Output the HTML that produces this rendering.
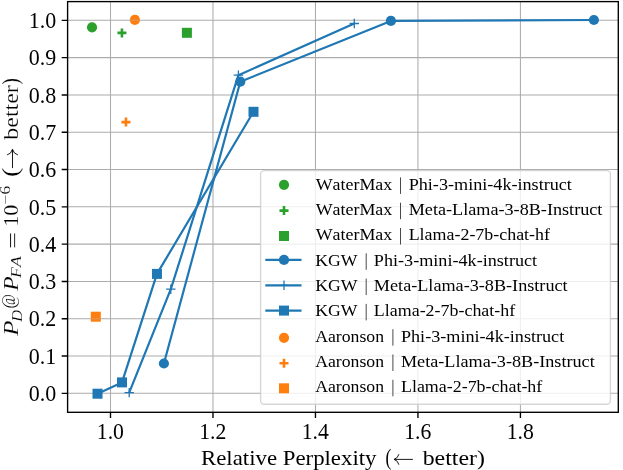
<!DOCTYPE html>
<html><head><meta charset="utf-8"><style>html,body{margin:0;padding:0;background:#fff;overflow:hidden}svg{display:block;will-change:transform}text{font-kerning:none;fill:#000} .r text{stroke:#fff;stroke-width:0.15px}</style></head>
<body><svg width="623" height="470" viewBox="0 0 623 470">
<rect x="0" y="0" width="623" height="470" fill="#fff"/>
<path d="M110.50 1.6V412.3M212.98 1.6V412.3M315.46 1.6V412.3M417.94 1.6V412.3M520.42 1.6V412.3M67.6 393.34H618.3M67.6 356.04H618.3M67.6 318.74H618.3M67.6 281.44H618.3M67.6 244.14H618.3M67.6 206.84H618.3M67.6 169.54H618.3M67.6 132.24H618.3M67.6 94.94H618.3M67.6 57.64H618.3M67.6 20.34H618.3" stroke="#acacac" stroke-width="1.05" fill="none"/>
<circle cx="92.04" cy="27.34" r="5.1" fill="#2ca02c"/>
<path d="M117.43 32.88H126.43M121.93 28.38V37.38" stroke="#2ca02c" stroke-width="2.6" fill="none"/>
<rect x="181.90" y="27.80" width="10.0" height="10.0" fill="#2ca02c"/>
<polyline points="163.9,363.5 240.3,81.7 390.9,20.9 593.9,20.0" fill="none" stroke="#1f77b4" stroke-width="2.2" stroke-linejoin="round" stroke-linecap="butt"/>
<circle cx="163.9" cy="363.5" r="5.1" fill="#1f77b4"/>
<circle cx="240.3" cy="81.7" r="5.1" fill="#1f77b4"/>
<circle cx="390.9" cy="20.9" r="5.1" fill="#1f77b4"/>
<circle cx="593.9" cy="20.0" r="5.1" fill="#1f77b4"/>
<polyline points="129.2,392.6 170.8,289.2 238.4,75.2 354.3,23.5" fill="none" stroke="#1f77b4" stroke-width="2.2" stroke-linejoin="round" stroke-linecap="butt"/>
<path d="M124.50 392.6H133.90M129.2 387.90V397.30" stroke="#1f77b4" stroke-width="1.3" fill="none"/>
<path d="M166.10 289.2H175.50M170.8 284.50V293.90" stroke="#1f77b4" stroke-width="1.3" fill="none"/>
<path d="M233.70 75.2H243.10M238.4 70.50V79.90" stroke="#1f77b4" stroke-width="1.3" fill="none"/>
<path d="M349.60 23.5H359.00M354.3 18.80V28.20" stroke="#1f77b4" stroke-width="1.3" fill="none"/>
<polyline points="97.5,393.7 122.0,382.4 156.95,273.9 253.5,111.8" fill="none" stroke="#1f77b4" stroke-width="2.2" stroke-linejoin="round" stroke-linecap="butt"/>
<rect x="92.50" y="388.70" width="10.0" height="10.0" fill="#1f77b4"/>
<rect x="117.00" y="377.40" width="10.0" height="10.0" fill="#1f77b4"/>
<rect x="151.95" y="268.90" width="10.0" height="10.0" fill="#1f77b4"/>
<rect x="248.50" y="106.80" width="10.0" height="10.0" fill="#1f77b4"/>
<circle cx="134.9" cy="19.9" r="5.1" fill="#ff7f0e"/>
<path d="M121.45 122.1H130.45M125.95 117.60V126.60" stroke="#ff7f0e" stroke-width="2.6" fill="none"/>
<rect x="90.80" y="311.70" width="10.0" height="10.0" fill="#ff7f0e"/>
<path d="M129.8 20.34H140.0M90.8 318.74H100.8" stroke="#b0b0b0" stroke-opacity="0.5" stroke-width="1.05"/>
<rect x="67.6" y="1.6" width="550.70" height="410.70" fill="none" stroke="#000" stroke-width="1.37" stroke-linejoin="miter"/>
<path d="M110.50 412.3V417.90000000000003M212.98 412.3V417.90000000000003M315.46 412.3V417.90000000000003M417.94 412.3V417.90000000000003M520.42 412.3V417.90000000000003M67.6 393.34H61.699999999999996M67.6 356.04H61.699999999999996M67.6 318.74H61.699999999999996M67.6 281.44H61.699999999999996M67.6 244.14H61.699999999999996M67.6 206.84H61.699999999999996M67.6 169.54H61.699999999999996M67.6 132.24H61.699999999999996M67.6 94.94H61.699999999999996M67.6 57.64H61.699999999999996M67.6 20.34H61.699999999999996" stroke="#000" stroke-width="1.37" fill="none"/>
<text x="28.67" y="401.00" font-size="22.5" textLength="27.47" lengthAdjust="spacingAndGlyphs" style='font-family:"Liberation Serif",serif;'>0.0</text>
<text x="28.67" y="363.70" font-size="22.5" textLength="27.47" lengthAdjust="spacingAndGlyphs" style='font-family:"Liberation Serif",serif;'>0.1</text>
<text x="28.67" y="326.40" font-size="22.5" textLength="27.47" lengthAdjust="spacingAndGlyphs" style='font-family:"Liberation Serif",serif;'>0.2</text>
<text x="28.67" y="289.10" font-size="22.5" textLength="27.47" lengthAdjust="spacingAndGlyphs" style='font-family:"Liberation Serif",serif;'>0.3</text>
<text x="28.67" y="251.80" font-size="22.5" textLength="27.47" lengthAdjust="spacingAndGlyphs" style='font-family:"Liberation Serif",serif;'>0.4</text>
<text x="28.67" y="214.50" font-size="22.5" textLength="27.47" lengthAdjust="spacingAndGlyphs" style='font-family:"Liberation Serif",serif;'>0.5</text>
<text x="28.67" y="177.20" font-size="22.5" textLength="27.47" lengthAdjust="spacingAndGlyphs" style='font-family:"Liberation Serif",serif;'>0.6</text>
<text x="28.67" y="139.90" font-size="22.5" textLength="27.47" lengthAdjust="spacingAndGlyphs" style='font-family:"Liberation Serif",serif;'>0.7</text>
<text x="28.67" y="102.60" font-size="22.5" textLength="27.47" lengthAdjust="spacingAndGlyphs" style='font-family:"Liberation Serif",serif;'>0.8</text>
<text x="28.67" y="65.30" font-size="22.5" textLength="27.47" lengthAdjust="spacingAndGlyphs" style='font-family:"Liberation Serif",serif;'>0.9</text>
<text x="28.67" y="28.00" font-size="22.5" textLength="27.47" lengthAdjust="spacingAndGlyphs" style='font-family:"Liberation Serif",serif;'>1.0</text>
<text x="96.79" y="438.8" font-size="22.5" textLength="27.13" lengthAdjust="spacingAndGlyphs" style='font-family:"Liberation Serif",serif;'>1.0</text>
<text x="199.27" y="438.8" font-size="22.5" textLength="27.13" lengthAdjust="spacingAndGlyphs" style='font-family:"Liberation Serif",serif;'>1.2</text>
<text x="301.75" y="438.8" font-size="22.5" textLength="27.13" lengthAdjust="spacingAndGlyphs" style='font-family:"Liberation Serif",serif;'>1.4</text>
<text x="404.23" y="438.8" font-size="22.5" textLength="27.13" lengthAdjust="spacingAndGlyphs" style='font-family:"Liberation Serif",serif;'>1.6</text>
<text x="506.71" y="438.8" font-size="22.5" textLength="27.13" lengthAdjust="spacingAndGlyphs" style='font-family:"Liberation Serif",serif;'>1.8</text>
<text x="201.04" y="464.70" font-size="22" textLength="175.45" lengthAdjust="spacingAndGlyphs" style='font-family:"Liberation Serif",serif;'>Relative Perplexity</text>
<text x="385.53" y="465.10" font-size="23.5" textLength="5.83" lengthAdjust="spacingAndGlyphs" style='font-family:"Liberation Serif",serif;'>(</text>
<text x="422.70" y="464.70" font-size="22" textLength="62.15" lengthAdjust="spacingAndGlyphs" style='font-family:"Liberation Serif",serif;'>better)</text>
<path d="M412.9 459.4H394.3M398.9 454.2Q398 458.2 394 459.4Q398 460.6 398.9 464.7" stroke="#000" stroke-width="0.9" fill="none"/>
<g transform="translate(17.6,470.0) rotate(-90)" class="r"><text x="134.33" y="0.00" font-size="21.5" textLength="15.30" lengthAdjust="spacingAndGlyphs" style='font-family:"Liberation Serif",serif;font-style:italic;'>P</text><text x="148.18" y="3.90" font-size="15.5" textLength="11.86" lengthAdjust="spacingAndGlyphs" style='font-family:"Liberation Serif",serif;font-style:italic;'>D</text><text x="161.47" y="-2.80" font-size="19.2" textLength="14.35" lengthAdjust="spacingAndGlyphs" style='font-family:"Liberation Serif",serif;'>@</text><text x="179.23" y="0.00" font-size="21.5" textLength="14.37" lengthAdjust="spacingAndGlyphs" style='font-family:"Liberation Serif",serif;font-style:italic;'>P</text><text x="192.10" y="3.30" font-size="15.5" textLength="21.74" lengthAdjust="spacingAndGlyphs" style='font-family:"Liberation Serif",serif;font-style:italic;'>FA</text><text x="220.97" y="2.60" font-size="21.2" textLength="17.33" lengthAdjust="spacingAndGlyphs" style='font-family:"Liberation Serif",serif;'>=</text><text x="243.15" y="0.30" font-size="21.5" textLength="22.20" lengthAdjust="spacingAndGlyphs" style='font-family:"Liberation Serif",serif;'>10</text><text x="265.62" y="-7.40" font-size="13.9" textLength="18.81" lengthAdjust="spacingAndGlyphs" style='font-family:"Liberation Serif",serif;'>−6</text><text x="292.97" y="0.60" font-size="23.5" textLength="9.34" lengthAdjust="spacingAndGlyphs" style='font-family:"Liberation Serif",serif;'>(</text><text x="330.30" y="0.00" font-size="21.5" textLength="54.51" lengthAdjust="spacingAndGlyphs" style='font-family:"Liberation Serif",serif;'>better</text><text x="385.36" y="0.60" font-size="23.5" textLength="6.61" lengthAdjust="spacingAndGlyphs" style='font-family:"Liberation Serif",serif;'>)</text><path d="M301.90 -5.1H320.50M315.10 -10.50Q316.00 -6.30 320.80 -5.1Q316.00 -3.90 315.10 0.30" stroke="#000" stroke-width="0.9" fill="none"/></g>
<rect x="260.6" y="170.6" width="349.8" height="233.6" rx="3.5" ry="3.5" fill="#fff" fill-opacity="0.8" stroke="#cccccc" stroke-opacity="0.8" stroke-width="1.37"/>
<circle cx="284.0" cy="184.85" r="5.1" fill="#2ca02c"/>
<path d="M279.50 210.6H288.50M284.0 206.10V215.10" stroke="#2ca02c" stroke-width="2.6" fill="none"/>
<rect x="279.00" y="231.00" width="10.0" height="10.0" fill="#2ca02c"/>
<path d="M265.3 259.9H301.5" stroke="#1f77b4" stroke-width="2.2"/>
<path d="M265.3 285.3H301.5" stroke="#1f77b4" stroke-width="2.2"/>
<path d="M265.3 310.6H301.5" stroke="#1f77b4" stroke-width="2.2"/>
<circle cx="284.0" cy="259.9" r="5.1" fill="#1f77b4"/>
<path d="M279.30 285.3H288.70M284.0 280.60V290.00" stroke="#1f77b4" stroke-width="1.3" fill="none"/>
<rect x="279.00" y="305.60" width="10.0" height="10.0" fill="#1f77b4"/>
<circle cx="284.0" cy="337.8" r="5.1" fill="#ff7f0e"/>
<path d="M279.50 363.3H288.50M284.0 358.80V367.80" stroke="#ff7f0e" stroke-width="2.6" fill="none"/>
<rect x="279.00" y="383.30" width="10.0" height="10.0" fill="#ff7f0e"/>
<text x="315.68" y="189.80" font-size="16.5" textLength="76.54" lengthAdjust="spacingAndGlyphs" style='font-family:"Liberation Serif",serif;'>WaterMax</text>
<path d="M400.5 177.40V193.90" stroke="#4a4a4a" stroke-width="1.0"/>
<text x="408.68" y="189.80" font-size="16.5" textLength="163.23" lengthAdjust="spacingAndGlyphs" style='font-family:"Liberation Serif",serif;'>Phi-3-mini-4k-instruct</text>
<text x="315.68" y="215.10" font-size="16.5" textLength="76.54" lengthAdjust="spacingAndGlyphs" style='font-family:"Liberation Serif",serif;'>WaterMax</text>
<path d="M400.5 202.70V219.20" stroke="#4a4a4a" stroke-width="1.0"/>
<text x="408.68" y="215.10" font-size="16.5" textLength="193.73" lengthAdjust="spacingAndGlyphs" style='font-family:"Liberation Serif",serif;'>Meta-Llama-3-8B-Instruct</text>
<text x="315.68" y="240.40" font-size="16.5" textLength="76.54" lengthAdjust="spacingAndGlyphs" style='font-family:"Liberation Serif",serif;'>WaterMax</text>
<path d="M400.5 228.00V244.50" stroke="#4a4a4a" stroke-width="1.0"/>
<text x="408.68" y="240.40" font-size="16.5" textLength="141.32" lengthAdjust="spacingAndGlyphs" style='font-family:"Liberation Serif",serif;'>Llama-2-7b-chat-hf</text>
<text x="315.19" y="265.70" font-size="16.5" textLength="42.24" lengthAdjust="spacingAndGlyphs" style='font-family:"Liberation Serif",serif;'>KGW</text>
<path d="M366.2 253.30V269.80" stroke="#4a4a4a" stroke-width="1.0"/>
<text x="373.88" y="265.70" font-size="16.5" textLength="163.23" lengthAdjust="spacingAndGlyphs" style='font-family:"Liberation Serif",serif;'>Phi-3-mini-4k-instruct</text>
<text x="315.19" y="291.00" font-size="16.5" textLength="42.24" lengthAdjust="spacingAndGlyphs" style='font-family:"Liberation Serif",serif;'>KGW</text>
<path d="M366.2 278.60V295.10" stroke="#4a4a4a" stroke-width="1.0"/>
<text x="373.88" y="291.00" font-size="16.5" textLength="193.73" lengthAdjust="spacingAndGlyphs" style='font-family:"Liberation Serif",serif;'>Meta-Llama-3-8B-Instruct</text>
<text x="315.19" y="316.30" font-size="16.5" textLength="42.24" lengthAdjust="spacingAndGlyphs" style='font-family:"Liberation Serif",serif;'>KGW</text>
<path d="M366.2 303.90V320.40" stroke="#4a4a4a" stroke-width="1.0"/>
<text x="373.88" y="316.30" font-size="16.5" textLength="141.32" lengthAdjust="spacingAndGlyphs" style='font-family:"Liberation Serif",serif;'>Llama-2-7b-chat-hf</text>
<text x="315.23" y="341.60" font-size="16.5" textLength="68.84" lengthAdjust="spacingAndGlyphs" style='font-family:"Liberation Serif",serif;'>Aaronson</text>
<path d="M392.9 329.20V345.70" stroke="#4a4a4a" stroke-width="1.0"/>
<text x="400.98" y="341.60" font-size="16.5" textLength="163.23" lengthAdjust="spacingAndGlyphs" style='font-family:"Liberation Serif",serif;'>Phi-3-mini-4k-instruct</text>
<text x="315.23" y="366.90" font-size="16.5" textLength="68.84" lengthAdjust="spacingAndGlyphs" style='font-family:"Liberation Serif",serif;'>Aaronson</text>
<path d="M392.9 354.50V371.00" stroke="#4a4a4a" stroke-width="1.0"/>
<text x="400.98" y="366.90" font-size="16.5" textLength="193.73" lengthAdjust="spacingAndGlyphs" style='font-family:"Liberation Serif",serif;'>Meta-Llama-3-8B-Instruct</text>
<text x="315.23" y="392.20" font-size="16.5" textLength="68.84" lengthAdjust="spacingAndGlyphs" style='font-family:"Liberation Serif",serif;'>Aaronson</text>
<path d="M392.9 379.80V396.30" stroke="#4a4a4a" stroke-width="1.0"/>
<text x="400.98" y="392.20" font-size="16.5" textLength="141.32" lengthAdjust="spacingAndGlyphs" style='font-family:"Liberation Serif",serif;'>Llama-2-7b-chat-hf</text>
</svg></body></html>
